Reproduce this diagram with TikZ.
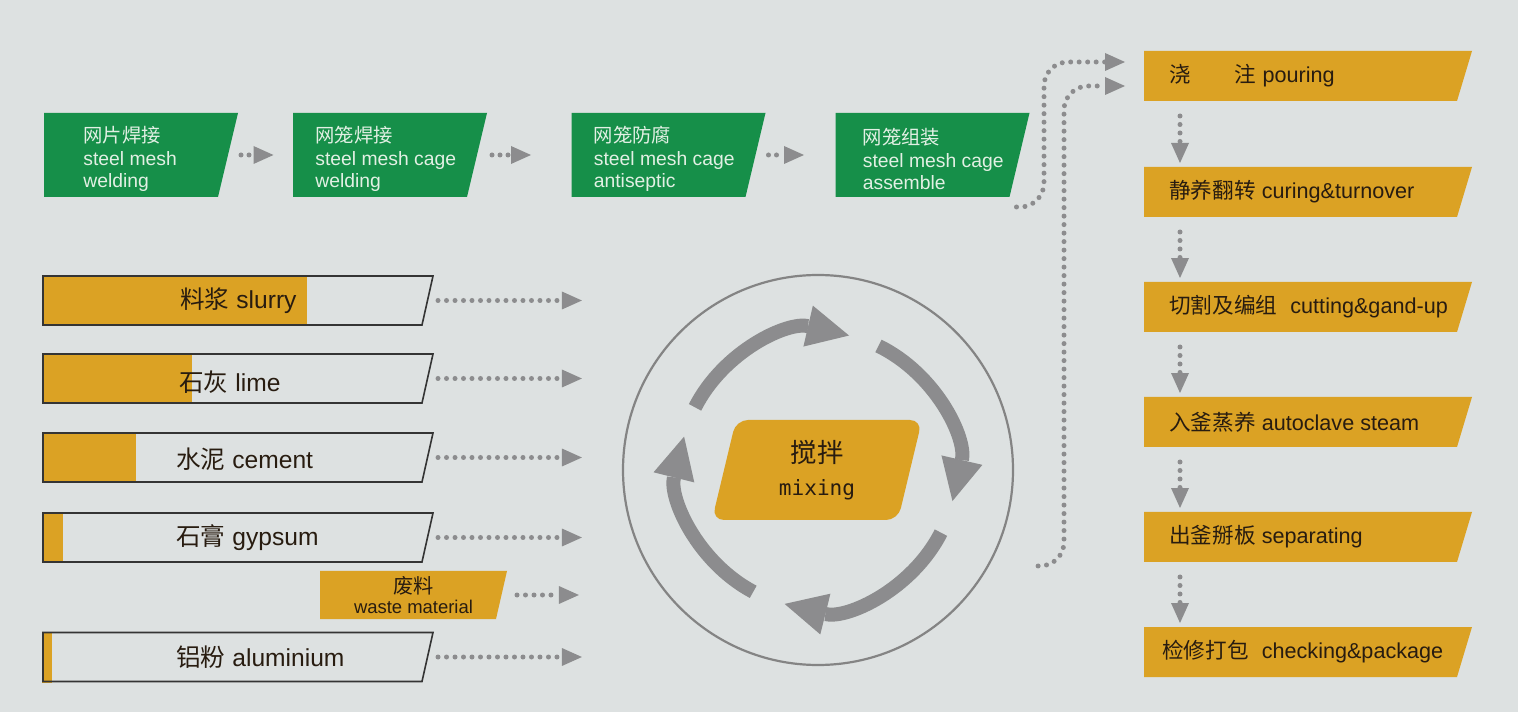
\documentclass[tikz,border=0pt]{standalone}
\usepackage{fontspec}
\setmainfont{Liberation Sans}
\newfontfamily\cjk{Noto Sans CJK SC}
\newfontfamily\mixfont{DejaVu Sans Mono}
\usetikzlibrary{arrows.meta,positioning}

\newlength\pix
\setlength\pix{0.02cm}

\begin{document}
\begin{tikzpicture}[x=0.02cm, y=-0.02cm,
  cutbox/.style 2 args={inner sep=0pt, outer sep=0pt, fill=paper,
    path picture={\fill[#1] (path picture bounding box.north west)
      -- (path picture bounding box.north east)
      -- ([xshift=-#2]path picture bounding box.south east)
      -- (path picture bounding box.south west) -- cycle;}},
  meshbox/.style={cutbox={meshgreen}{20\pix}, minimum width=194\pix, minimum height=84\pix},
  stepbox/.style={cutbox={gold}{15\pix}, minimum width=328\pix, minimum height=50\pix},
  rawbar/.style={inner sep=0pt, outer sep=0pt, fill=paper, minimum width=392\pix, minimum height=51\pix,
    path picture={
      \fill[gold] (path picture bounding box.north west) rectangle ([xshift=#1]path picture bounding box.south west);
      \draw[rim, line width=1.6\pix] ([shift={(1\pix,-1\pix)}]path picture bounding box.north west)
        -- ([shift={(-1\pix,-1\pix)}]path picture bounding box.north east)
        -- ([shift={(-12\pix,1\pix)}]path picture bounding box.south east)
        -- ([shift={(1\pix,1\pix)}]path picture bounding box.south west) -- cycle;}},
  mixbox/.style={inner sep=0pt, fill=paper, minimum width=210\pix, minimum height=100\pix,
    align=center, text=ink, font=\fontsize{12}{19}\selectfont,
    path picture={\fill[gold, rounded corners=12\pix] ([xshift=24\pix]path picture bounding box.north west)
      -- (path picture bounding box.north east)
      -- ([xshift=-24\pix]path picture bounding box.south east)
      -- (path picture bounding box.south west) -- cycle;}},
  meshlabel/.style={align=left, inner sep=0pt, text=meshtext, font=\fontsize{11}{12.8}\selectfont},
  rawlabel/.style={inner sep=0pt, text=ink, font=\fontsize{14}{16}\selectfont},
  steplabel/.style={inner sep=0pt, text=ink, font=\fontsize{12.3}{14}\selectfont},
  dotline/.style={draw=dotgray, line width=5\pix, line cap=round, dash pattern=on 0pt off 0.17cm,
    -{Triangle[length=0.4cm, width=0.36cm, line width=0pt]}},
  shortdots/.style={dotline, dash pattern=on 0pt off 0.16cm,
    -{Triangle[length=0.4cm, width=0.36cm, line width=0pt, sep=0.09cm]}},
  spin/.style={draw=dotgray, line width=14\pix, -{Triangle[length=0.84cm, width=0.84cm, line width=0pt]}}]
  % Define colors
  \definecolor{paper}{RGB}{221,225,225}
  \definecolor{meshgreen}{RGB}{22,143,73}
  \definecolor{meshtext}{RGB}{226,240,228}
  \definecolor{gold}{RGB}{219,162,36}
  \definecolor{ink}{RGB}{40,28,16}
  \definecolor{dotgray}{RGB}{140,140,142}
  \definecolor{ringgray}{RGB}{132,132,132}
  \definecolor{rim}{RGB}{52,52,52}

  % Background
  \useasboundingbox (0,0) rectangle (1518,712);
  \fill[paper] (0,0) rectangle (1518,712);

  % Steel mesh line (top)
  \node[meshbox] (weld) at (141,155) {};
  \node[meshbox] (cage) at (390,155) {};
  \node[meshbox] (antisep) at (668.5,155) {};
  \node[meshbox] (assem) at (932.5,155) {};
  \node[meshlabel, right=39\pix of weld.west, yshift=-4\pix] (weldtext) {{\cjk 网片焊接}\\steel mesh\\welding};
  \node[meshlabel, right=22\pix of cage.west, yshift=-4\pix] (cagetext) {{\cjk 网笼焊接}\\steel mesh cage\\welding};
  \node[meshlabel, right=22\pix of antisep.west, yshift=-4\pix] (antiseptext) {{\cjk 网笼防腐}\\steel mesh cage\\antiseptic};
  \node[meshlabel, right=27\pix of assem.west, yshift=-4\pix] (assemtext) {{\cjk 网笼组装}\\steel mesh cage\\assemble};
  \draw[shortdots, shorten <=3\pix, shorten >=15\pix] (weld) -- (cage);
  \draw[shortdots, shorten <=5\pix, shorten >=36\pix] (cage) -- (antisep);
  \draw[shortdots, shorten <=3\pix, shorten >=27\pix] (antisep) -- (assem);

  % Raw materials (left)
  \node[rawbar=265\pix] (slurry) at (238,300.5) {};
  \node[rawbar=150\pix] (lime) at (238,378.5) {};
  \node[rawbar=94\pix] (cement) at (238,457.5) {};
  \node[rawbar=21\pix] (gypsum) at (238,537.5) {};
  \node[rawbar=10\pix] (alu) at (238,657) {};
  \node[cutbox={gold}{11\pix}, minimum width=187\pix, minimum height=48\pix, align=center,
    text=ink, font=\fontsize{10.5}{11}\selectfont] (waste) at (413.5,595)
    {{\cjk\fontsize{11.5}{11}\selectfont 废料}\\waste material};
  \node[rawlabel, right=138\pix of slurry.west] (slurrytext) {{\cjk 料浆} slurry};
  \node[rawlabel, right=137\pix of lime.west, yshift=-4\pix] (limetext) {{\cjk 石灰} lime};
  \node[rawlabel, right=134\pix of cement.west, yshift=-2\pix] (cementtext) {{\cjk 水泥} cement};
  \node[rawlabel, right=134\pix of gypsum.west] (gypsumtext) {{\cjk 石膏} gypsum};
  \node[rawlabel, right=134\pix of alu.west] (alutext) {{\cjk 铝粉} aluminium};

  % Mixing ring
  \node[circle, draw=ringgray, line width=2.2\pix, inner sep=0pt, minimum size=390\pix] (ring) at (818,470) {};
  \draw[spin] ([shift={(-153:138)}]ring.center) arc[start angle=-153, end angle=-77, radius=138];
  \draw[spin] ([shift={(-64:138)}]ring.center) arc[start angle=-64, end angle=13, radius=138];
  \draw[spin] ([shift={(27:138)}]ring.center) arc[start angle=27, end angle=104, radius=138];
  \draw[spin] ([shift={(118:138)}]ring.center) arc[start angle=118, end angle=194, radius=138];
  \node[mixbox] (mix) at (817,470) {{\cjk\fontsize{15}{19}\selectfont 搅拌}\\{\mixfont mixing}};

  % Feeds into the ring
  \draw[dotline, shorten <=4\pix, shorten >=40\pix] (slurry) -- (slurry -| ring.west);
  \draw[dotline, shorten <=4\pix, shorten >=40\pix] (lime) -- (lime -| ring.west);
  \draw[dotline, shorten <=4\pix, shorten >=40\pix] (cement) -- (cement -| ring.west);
  \draw[dotline, shorten <=4\pix, shorten >=40\pix] (gypsum) -- (gypsum -| ring.west);
  \draw[dotline, shorten <=10\pix, shorten >=43\pix] (waste) -- (waste -| ring.west);
  \draw[dotline, shorten <=4\pix, shorten >=40\pix] (alu) -- (alu -| ring.west);

  % Production steps (right)
  \node[stepbox] (pour) at (1308,76) {};
  \node[stepbox] (cure) at (1308,192) {};
  \node[stepbox] (cut) at (1308,307) {};
  \node[stepbox] (steam) at (1308,422) {};
  \node[stepbox] (part) at (1308,537) {};
  \node[stepbox] (pack) at (1308,652) {};
  \node[steplabel, right=25\pix of pour.west] (pourtext) {{\cjk 浇}\hspace*{44\pix}{\cjk 注} pouring};
  \node[steplabel, right=25\pix of cure.west] (curetext) {{\cjk 静养翻转} curing\&turnover};
  \node[steplabel, right=25\pix of cut.west] (cuttext) {{\cjk 切割及编组}\hspace*{13\pix}cutting\&gand-up};
  \node[steplabel, right=25\pix of steam.west] (steamtext) {{\cjk 入釜蒸养} autoclave steam};
  \node[steplabel, right=25\pix of part.west] (parttext) {{\cjk 出釜掰板} separating};
  \node[steplabel, right=18\pix of pack.west] (packtext) {{\cjk 检修打包}\hspace*{13\pix}checking\&package};
  \draw[dotline, shorten <=15\pix, shorten >=4\pix] ([xshift=36\pix]pour.south west) -- ([xshift=36\pix]cure.north west);
  \draw[dotline, shorten <=15\pix, shorten >=4\pix] ([xshift=36\pix]cure.south west) -- ([xshift=36\pix]cut.north west);
  \draw[dotline, shorten <=15\pix, shorten >=4\pix] ([xshift=36\pix]cut.south west) -- ([xshift=36\pix]steam.north west);
  \draw[dotline, shorten <=15\pix, shorten >=4\pix] ([xshift=36\pix]steam.south west) -- ([xshift=36\pix]part.north west);
  \draw[dotline, shorten <=15\pix, shorten >=4\pix] ([xshift=36\pix]part.south west) -- ([xshift=36\pix]pack.north west);

  % Cage and mix both go to pouring
  \draw[dotline, rounded corners=24\pix] ([xshift=-13\pix,yshift=-10\pix]assem.south east) -| (1044,62)
    -- ([xshift=-19\pix,yshift=-11\pix]pour.north west);
  \draw[dotline, rounded corners=24\pix] ([xshift=24\pix,yshift=-96\pix]ring.east) -| (1064,86)
    -- ([xshift=-19\pix,yshift=-10\pix]pour.west);
\end{tikzpicture}
\end{document}
